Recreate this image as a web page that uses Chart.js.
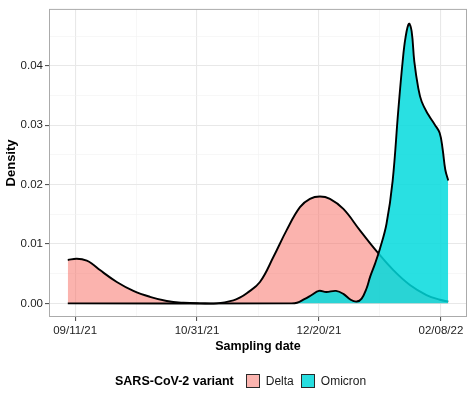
<!DOCTYPE html>
<html>
<head>
<meta charset="utf-8">
<script src="https://cdn.jsdelivr.net/npm/chart.js@4.4.1/dist/chart.umd.min.js"></script>
<style>
  html, body { margin: 0; padding: 0; background: #fff; }
  #wrap { position: relative; width: 474px; height: 395px; font-family: "Liberation Sans", Arial, sans-serif; }
  #legend { position: absolute; left: 115px; top: 372px; height: 18px; display: flex; align-items: center; color: #1a1a1a; font-size: 12px; }
  #legend .title { font-weight: bold; font-size: 12.5px; color: #000; margin-right: 12px; }
  #legend .key { width: 12px; height: 12px; border: 1.5px solid #2a2a2a; margin-right: 6px; }
  #legend .lab { margin-right: 7px; }
</style>
</head>
<body>
<div id="wrap">
  <canvas id="chart" width="474" height="395"></canvas>
  <div id="legend"></div>
</div>
<script>
// dias desde 09/11/21
const xTickDays = [0, 50, 100, 150];
const xTickLabels = ['09/11/21', '10/31/21', '12/20/21', '02/08/22'];
const yTickValues = [0, 0.01, 0.02, 0.03, 0.04];

const variants = ['Delta', 'Omicron'];

const deltaDays = [-3, 0.7, 4.8, 7.5, 10.2, 17.1, 23.9, 30.7, 37.6, 44.4, 51.2, 58.1, 64.9, 67.7, 70.4, 75.8,
  81.3, 86.7, 92.2, 96.3, 100.4, 104.5, 110, 116.8, 123.6, 130.5, 137.3, 144.1, 149.6, 153];
const deltaDensity = [0.0073, 0.0075, 0.0072, 0.0065, 0.0056, 0.0036, 0.0021, 0.0011, 0.0004, 0.0001, 0, 0, 0.0005, 0.001, 0.0017, 0.0036,
  0.0078, 0.0123, 0.0162, 0.0176, 0.018, 0.0176, 0.0159, 0.0123, 0.0088, 0.0056, 0.0031, 0.0014, 0.0006, 0.0003];

const omicronDays = [-3, 88, 91, 94, 97, 100, 103, 107, 110, 113, 115.5, 117.5, 119.5, 121, 123, 125, 127.7,
  130.2, 132.5, 134.3, 135.5, 136.9, 138, 139.1, 140.7, 142.1, 144.8, 147.5, 149.5, 150.7, 151.8, 153];
const omicronDensity = [0, 0, 0.0001, 0.0007, 0.0014, 0.0021, 0.0019, 0.0021, 0.0016, 0.0006, 0.0003, 0.0008, 0.0025, 0.0045, 0.0067, 0.0092, 0.0134,
  0.0206, 0.0324, 0.0407, 0.0448, 0.0471, 0.0458, 0.0407, 0.0363, 0.034, 0.0318, 0.0301, 0.0287, 0.026, 0.0225, 0.0207];

const deltaFill = 'rgba(248, 110, 100, 0.52)';
const omicronFill = 'rgba(0, 218, 220, 0.84)';
const deltaKey = 'rgb(251, 180, 175)';
const omicronKey = 'rgb(40, 222, 224)';

const toPoints = (xs, ys) => xs.map((x, i) => ({ x: x, y: ys[i] }));

// leyenda en HTML
const legend = document.getElementById('legend');
legend.innerHTML = '<span class="title">SARS-CoV-2 variant</span>' +
  variants.map((v, i) =>
    `<span class="key" style="background:${i === 0 ? deltaKey : omicronKey}"></span><span class="lab">${v}</span>`
  ).join('');

// borde del panel
const panelBorder = {
  id: 'panelBorder',
  afterDraw(chart) {
    const { ctx, chartArea: a } = chart;
    ctx.save();
    ctx.strokeStyle = '#ABABAB';
    ctx.lineWidth = 1;
    ctx.strokeRect(a.left + 0.5, a.top + 0.5, a.right - a.left - 1, a.bottom - a.top - 1);
    ctx.restore();
  }
};

const isMajorX = v => xTickDays.includes(v);
const isMajorY = v => yTickValues.some(t => Math.abs(t - v) < 1e-9);
const fontFamily = '"Liberation Sans", Arial, sans-serif';

new Chart(document.getElementById('chart').getContext('2d'), {
  type: 'line',
  data: {
    datasets: [
      {
        label: 'Omicron',
        data: toPoints(omicronDays, omicronDensity),
        borderColor: '#000',
        backgroundColor: omicronFill,
        borderWidth: 1.9,
        fill: 'origin',
        pointRadius: 0,
        tension: 0.4
      },
      {
        label: 'Delta',
        data: toPoints(deltaDays, deltaDensity),
        borderColor: '#000',
        backgroundColor: deltaFill,
        borderWidth: 1.9,
        fill: 'origin',
        pointRadius: 0,
        tension: 0.4
      }
    ]
  },
  options: {
    responsive: false,
    animation: false,
    layout: { padding: { left: 0, right: 7, top: 7, bottom: 38 } },
    plugins: {
      legend: { display: false },
      tooltip: { enabled: false }
    },
    scales: {
      x: {
        type: 'linear',
        min: -10.7,
        max: 160.7,
        afterBuildTicks: scale => {
          const t = [];
          for (let v = 0; v <= 150; v += 25) t.push({ value: v });
          scale.ticks = t;
        },
        afterFit: scale => { scale.height = 40; },
        border: { display: false },
        grid: {
          color: c => (c.tick && isMajorX(c.tick.value)) ? '#E8E8E8' : '#F2F2F2',
          lineWidth: c => (c.tick && isMajorX(c.tick.value)) ? 1.1 : 0.6,
          tickColor: c => (c.tick && isMajorX(c.tick.value)) ? '#555' : 'rgba(0,0,0,0)',
          tickLength: 4
        },
        ticks: {
          autoSkip: false,
          maxRotation: 0,
          padding: 3,
          color: '#222',
          font: { family: fontFamily, size: 11.5 },
          callback: v => isMajorX(v) ? xTickLabels[xTickDays.indexOf(v)] : ''
        },
        title: {
          display: true,
          text: 'Sampling date',
          color: '#000',
          font: { family: fontFamily, size: 12.5, weight: 'bold' },
          padding: { top: 0, bottom: 3 }
        }
      },
      y: {
        type: 'linear',
        min: -0.0023,
        max: 0.0496,
        afterBuildTicks: scale => {
          const t = [];
          for (let i = 0; i <= 9; i++) t.push({ value: i * 0.005 });
          scale.ticks = t;
        },
        afterFit: scale => { scale.width = 49; },
        border: { display: false },
        grid: {
          color: c => (c.tick && isMajorY(c.tick.value)) ? '#E8E8E8' : '#F2F2F2',
          lineWidth: c => (c.tick && isMajorY(c.tick.value)) ? 1.1 : 0.6,
          tickColor: c => (c.tick && isMajorY(c.tick.value)) ? '#555' : 'rgba(0,0,0,0)',
          tickLength: 4
        },
        ticks: {
          autoSkip: false,
          padding: 2,
          color: '#222',
          font: { family: fontFamily, size: 11.5 },
          callback: v => isMajorY(v) ? v.toFixed(2) : ''
        },
        title: {
          display: true,
          text: 'Density',
          color: '#000',
          font: { family: fontFamily, size: 13, weight: 'bold' },
          padding: { top: 4, bottom: 0 }
        }
      }
    }
  },
  plugins: [panelBorder]
});
</script>
</body>
</html>
